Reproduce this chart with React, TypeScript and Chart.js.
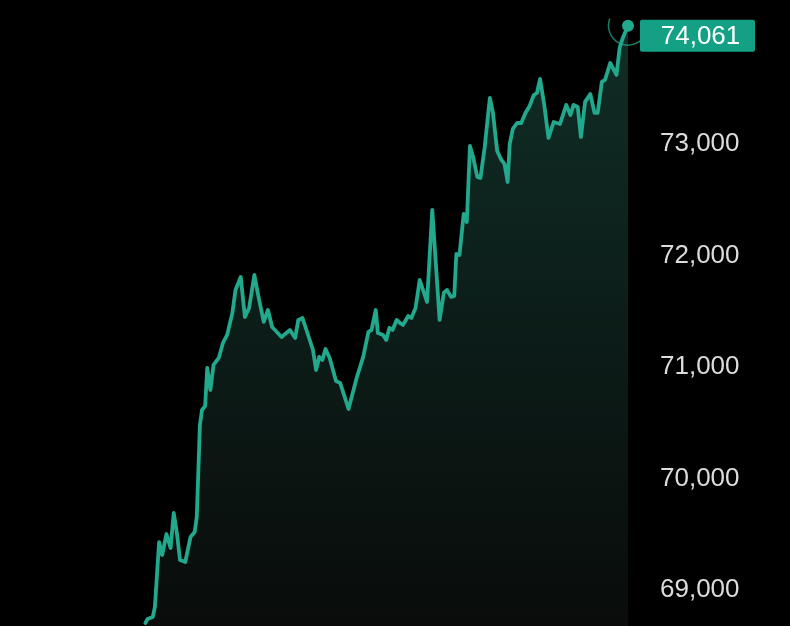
import React, { useEffect, useRef } from "react";
import { Chart, registerables } from "chart.js";

Chart.register(...registerables);

// minutes since session start (axis spans 0..600)
const minutes = [
  139, 141, 146, 148, 152, 155, 159, 163, 166, 169, 172, 177, 182, 186, 188, 191, 193, 196, 198, 201,
  204, 209, 213, 217, 222, 225, 230, 234, 238, 243, 247, 252, 256, 260, 269, 277, 282, 285, 289, 295,
  299, 302, 305, 308, 311, 315, 321, 325, 333, 341, 347, 352, 355, 359, 361, 366, 369, 372, 375, 379,
  382, 385, 390, 393, 397, 401, 408, 413, 420, 424, 427, 431, 434, 436, 439, 443, 446, 449, 452, 456,
  459, 463, 468, 471, 475, 479, 482, 485, 487, 490, 494, 498, 502, 506, 510, 513, 516, 520, 524, 529,
  535, 541, 545, 548, 552, 555, 559, 564, 568, 571, 575, 578, 583, 589, 592, 595, 600,
];

const prices = [
  68704, 68740, 68758, 68848, 69430, 69314, 69502, 69377, 69691, 69511, 69269, 69251, 69475, 69520, 69655, 70480, 70614, 70650, 70991, 70794,
  71018, 71081, 71215, 71287, 71484, 71691, 71807, 71448, 71529, 71825, 71628, 71404, 71511, 71359, 71269, 71332, 71260, 71422, 71439, 71269,
  71152, 70973, 71090, 71063, 71161, 71081, 70874, 70857, 70623, 70910, 71090, 71314, 71332, 71511, 71305, 71287, 71242, 71350, 71332, 71422,
  71395, 71377, 71457, 71439, 71529, 71780, 71583, 72408, 71422, 71664, 71691, 71628, 71637, 72013, 72004, 72372, 72300, 72982, 72883, 72704,
  72695, 72964, 73413, 73278, 72937, 72857, 72821, 72659, 73000, 73135, 73188, 73188, 73278, 73341, 73439, 73457, 73583, 73350, 73054, 73197,
  73179, 73350, 73260, 73350, 73332, 73063, 73377, 73448, 73278, 73278, 73556, 73574, 73726, 73619, 73861, 73951, 74061,
];

const yTickValues = [69000, 70000, 71000, 72000, 73000];
const yMin = 68677;
const yMax = 74291;
const xMin = 0;
const xMax = 600;

const LINE = "#22a88c";
const TAG = "#14a084";

const lastPricePlugin = {
  id: "lastPrice",
  afterDatasetsDraw(chart: any) {
    const { ctx, chartArea, scales } = chart;
    const lastX = minutes[minutes.length - 1];
    const lastY = prices[prices.length - 1];
    const px = scales.x.getPixelForValue(lastX);
    const py = scales.y.getPixelForValue(lastY);
    ctx.save();
    // halo arc
    ctx.strokeStyle = "rgba(34,168,140,0.75)";
    ctx.lineWidth = 1.5;
    ctx.beginPath();
    ctx.arc(px, py, 19.5, 0.08 * Math.PI, 1.12 * Math.PI);
    ctx.stroke();
    // dot
    ctx.fillStyle = LINE;
    ctx.beginPath();
    ctx.arc(px, py, 6, 0, Math.PI * 2);
    ctx.fill();
    // tag
    const bx = chartArea.right + 12;
    const by = py - 6;
    const bw = 115;
    const bh = 32;
    ctx.fillStyle = TAG;
    ctx.beginPath();
    if ((ctx as any).roundRect) (ctx as any).roundRect(bx, by, bw, bh, 2);
    else ctx.rect(bx, by, bw, bh);
    ctx.fill();
    ctx.fillStyle = "#ffffff";
    ctx.font = "26px 'Liberation Sans', Arial, sans-serif";
    ctx.textAlign = "center";
    ctx.textBaseline = "middle";
    ctx.fillText(lastY.toLocaleString("en-US"), bx + bw / 2 + 3, by + bh / 2 + 1);
    ctx.restore();
  },
};

export default function App() {
  const ref = useRef<HTMLCanvasElement | null>(null);

  useEffect(() => {
    if (!ref.current) return;
    const chart = new Chart(ref.current, {
      type: "line",
      data: {
        datasets: [
          {
            data: minutes.map((m, i) => ({ x: m, y: prices[i] })),
            borderColor: LINE,
            borderWidth: 3.8,
            borderJoinStyle: "round",
            borderCapStyle: "round",
            pointRadius: 0,
            tension: 0,
            fill: "start",
            backgroundColor: (c: any) => {
              const area = c.chart.chartArea;
              if (!area) return "rgba(16,47,39,1)";
              const g = c.chart.ctx.createLinearGradient(0, area.top, 0, area.bottom);
              g.addColorStop(0, "rgb(16,47,39)");
              g.addColorStop(1, "rgb(9,12,11)");
              return g;
            },
          },
        ],
      },
      options: {
        responsive: false,
        animation: false,
        layout: { padding: 0 },
        plugins: { legend: { display: false }, tooltip: { enabled: false } },
        scales: {
          x: { type: "linear", min: xMin, max: xMax, display: false },
          y: {
            position: "right",
            min: yMin,
            max: yMax,
            grid: { display: false, drawTicks: false },
            border: { display: false },
            afterBuildTicks: (scale: any) => {
              scale.ticks = yTickValues.map((v) => ({ value: v }));
            },
            afterFit: (scale: any) => {
              scale.width = 162;
              scale.paddingTop = 0;
              scale.paddingBottom = 0;
            },
            ticks: {
              padding: 32,
              color: "#dcdcdc",
              font: { family: "'Liberation Sans', Arial, sans-serif", size: 26 },
              callback: (v: any) => Number(v).toLocaleString("en-US"),
            },
          },
        },
      },
      plugins: [lastPricePlugin],
    });
    return () => chart.destroy();
  }, []);

  return (
    <div style={{ position: "fixed", left: 0, top: 0, width: 790, height: 626, background: "#000" }}>
      <canvas ref={ref} width={790} height={626} style={{ display: "block" }} />
    </div>
  );
}
